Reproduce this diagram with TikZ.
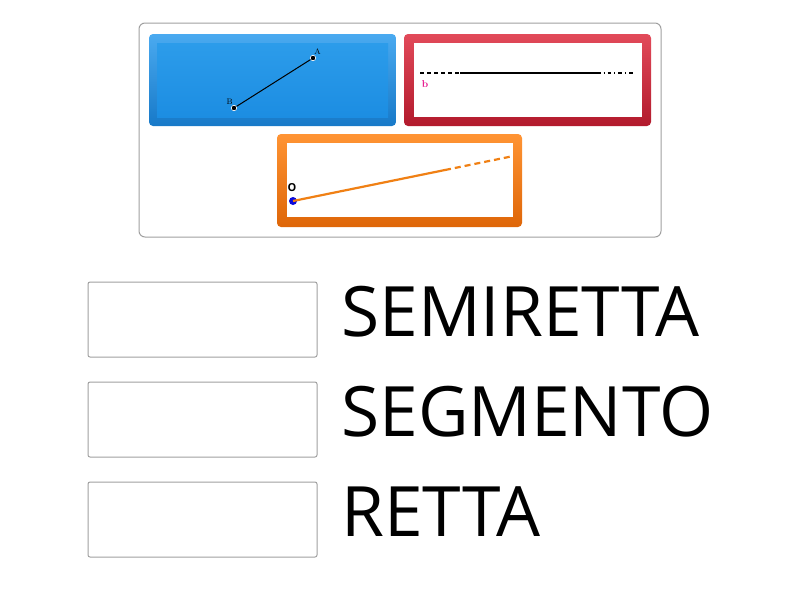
\documentclass[tikz,border=0pt]{standalone}
\usepackage{fontspec}
\setsansfont{Open Sans}
\usetikzlibrary{positioning,calc}
\definecolor{frame}{RGB}{160,160,160}
\definecolor{bta}{RGB}{74,170,240}
\definecolor{btb}{RGB}{23,121,200}
\definecolor{bia}{RGB}{44,156,234}
\definecolor{bib}{RGB}{28,141,226}
\definecolor{rta}{RGB}{226,74,90}
\definecolor{rtb}{RGB}{178,26,44}
\definecolor{ota}{RGB}{255,148,52}
\definecolor{otb}{RGB}{222,102,8}
\definecolor{ln}{RGB}{240,128,20}
\definecolor{pt}{RGB}{10,10,220}
\definecolor{lb}{RGB}{230,20,140}
\tikzset{
  tile/.style={rounded corners=4pt, minimum width=247pt, minimum height=92pt, inner sep=0},
  pane/.style={inner sep=0, minimum width=228pt, minimum height=74pt},
  slot/.style={draw=frame, line width=1pt, rounded corners=2pt, minimum width=229pt, minimum height=75pt, inner sep=0},
  word/.style={anchor=base west, inner sep=0, font=\sffamily\fontsize{69.5}{80}\selectfont},
  dot/.style={circle, fill=black, draw=white, line width=0.6pt, inner sep=0, minimum size=5.5pt},
  tiny/.style={font=\rmfamily\fontsize{8}{9}\selectfont, inner sep=0}
}
\begin{document}
\begin{tikzpicture}[x=1pt,y=-1pt]
\useasboundingbox (0,0) rectangle (800,600);
\node[draw=frame, line width=1pt, rounded corners=6pt, minimum width=522pt, minimum height=214pt] (panel) at (400,130) {};

% blue tile
\node[tile, top color=bta, bottom color=btb] (seg) at (272.5,80) {};
\node[pane, minimum width=231pt, top color=bia, bottom color=bib] (segin) at (272.5,80.5) {};
\node[dot] (A) at (313,58) {};
\node[dot] (B) at (234,108) {};
\draw[line width=1pt] (A) -- (B);
\node[tiny, above right=1pt and -1pt of A] {A};
\node[tiny, above left=1pt and -1pt of B] {B};

% red tile
\node[tile, top color=rta, bottom color=rtb] (ret) at (527.5,80) {};
\node[pane, fill=white] (retin) at (528,80) {};
\coordinate (r1) at (420,73);
\coordinate (r2) at (460,73);
\coordinate (r3) at (597,73);
\coordinate (r4) at (633,73);
\draw[line width=1.2pt, dash pattern=on 3.5pt off 3.5pt] (r1) -- (r2);
\draw[line width=1.2pt] (r2) -- (r3);
\draw[line width=1.2pt, dash pattern=on 3.5pt off 3pt on 1.2pt off 3pt] (r3) -- (r4);
\node[font=\rmfamily\bfseries\fontsize{10}{11}\selectfont, text=lb, inner sep=0] (b) at (425,84) {b};

% orange tile
\node[tile, minimum width=245pt, minimum height=93pt, top color=ota, bottom color=otb] (semi) at (399.5,180.5) {};
\node[pane, minimum width=226pt, fill=white] (semiin) at (400,180) {};
\node[circle, fill=pt, inner sep=0, minimum size=8pt] (O) at (293,201) {};
\coordinate (s1) at (445,170);
\coordinate (s2) at (512,156.3);
\draw[ln, line width=2.2pt] (O.center) -- (s1);
\draw[ln, line width=2.2pt, dash pattern=on 6pt off 4pt] (s1) -- (s2);
\node[font=\sffamily\bfseries\fontsize{11}{12}\selectfont, inner sep=0] (Olab) at (292,188) {O};

% answers
\foreach [count = \i from 0] \w in {SEMIRETTA, SEGMENTO, RETTA}{
\node[slot] (box\i) at (202.5, 319.5+100*\i) {};
\node[word] (word\i) at (341, 336+100*\i) {\w};
}
\end{tikzpicture}
\end{document}
